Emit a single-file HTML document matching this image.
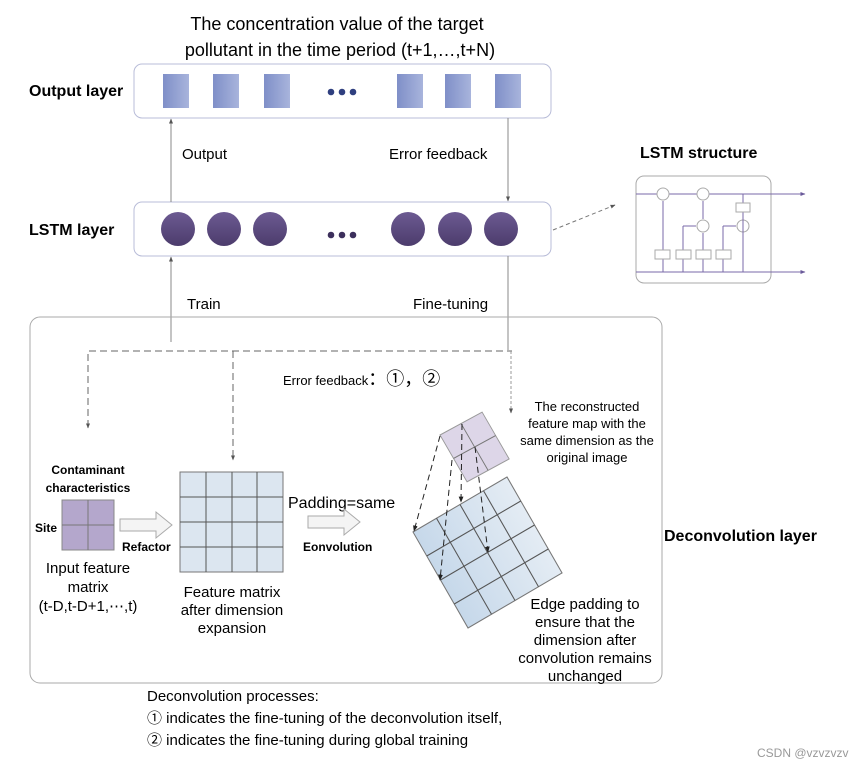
<!DOCTYPE html>
<html><head><meta charset="utf-8"><style>
body{margin:0;background:#fff}
svg text{font-family:"Liberation Sans",sans-serif}
</style></head><body>
<svg width="859" height="769" viewBox="0 0 859 769" xmlns="http://www.w3.org/2000/svg">
<defs>
<marker id="a" viewBox="0 0 10 10" refX="9" refY="5" markerWidth="5" markerHeight="5" orient="auto"><path d="M0,1L10,5L0,9z" fill="#555"/></marker>
<marker id="b" viewBox="0 0 10 10" refX="9" refY="5" markerWidth="6" markerHeight="6" orient="auto"><path d="M0,1L10,5L0,9z" fill="#222"/></marker>
<marker id="p" viewBox="0 0 10 10" refX="9" refY="5" markerWidth="5" markerHeight="5" orient="auto"><path d="M0,1L10,5L0,9z" fill="#6a5a9a"/></marker>
<linearGradient id="sq" x1="0" x2="1"><stop offset="0" stop-color="#7f8fc8"/><stop offset="1" stop-color="#a8b4dc"/></linearGradient>
<linearGradient id="ci" x1="0" y1="0" x2="0" y2="1"><stop offset="0" stop-color="#6c5a92"/><stop offset="1" stop-color="#4c3c6c"/></linearGradient>
<linearGradient id="bg" x1="0" y1="0" x2="1" y2="0"><stop offset="0" stop-color="#c6d8ea"/><stop offset="1" stop-color="#e4ecf4"/></linearGradient>
</defs>
<text x="337" y="30" font-size="18" text-anchor="middle">The concentration value of the target</text>
<text x="340" y="56" font-size="18" text-anchor="middle">pollutant in the time period (t+1,…,t+N)</text>
<text x="29" y="96" font-size="16" font-weight="bold">Output layer</text>
<rect x="134" y="64" width="417" height="54" rx="8" fill="#fff" stroke="#b8bcd8"/>
<g fill="url(#sq)"><rect x="163" y="74" width="26" height="34"/><rect x="213" y="74" width="26" height="34"/><rect x="264" y="74" width="26" height="34"/><rect x="397" y="74" width="26" height="34"/><rect x="445" y="74" width="26" height="34"/><rect x="495" y="74" width="26" height="34"/></g>
<g fill="#2f3f7f"><circle cx="331" cy="92" r="3.3"/><circle cx="342" cy="92" r="3.3"/><circle cx="353" cy="92" r="3.3"/></g>
<text x="29" y="235" font-size="16" font-weight="bold">LSTM layer</text>
<rect x="134" y="202" width="417" height="54" rx="8" fill="#fff" stroke="#b8bcd8"/>
<g fill="url(#ci)"><circle cx="178" cy="229" r="17"/><circle cx="224" cy="229" r="17"/><circle cx="270" cy="229" r="17"/><circle cx="408" cy="229" r="17"/><circle cx="455" cy="229" r="17"/><circle cx="501" cy="229" r="17"/></g>
<g fill="#3c2f5c"><circle cx="331" cy="235" r="3.3"/><circle cx="342" cy="235" r="3.3"/><circle cx="353" cy="235" r="3.3"/></g>
<line x1="171" y1="202" x2="171" y2="119" stroke="#888" marker-end="url(#a)"/>
<line x1="508" y1="118" x2="508" y2="201" stroke="#888" marker-end="url(#a)"/>
<line x1="171" y1="342" x2="171" y2="257" stroke="#888" marker-end="url(#a)"/>
<line x1="508" y1="256" x2="508" y2="350" stroke="#888"/>
<text x="182" y="159" font-size="15">Output</text>
<text x="389" y="159" font-size="15">Error feedback</text>
<text x="187" y="309" font-size="15">Train</text>
<text x="413" y="309" font-size="15">Fine-tuning</text>
<line x1="553" y1="230" x2="615" y2="205" stroke="#777" stroke-dasharray="4,3" marker-end="url(#a)"/>
<text x="640" y="158" font-size="16" font-weight="bold">LSTM structure</text>
<g stroke="#7a6aa8" fill="none" stroke-width="1">
<rect x="636" y="176" width="135" height="107" rx="8" stroke="#aaa"/>
<line x1="636" y1="194" x2="805" y2="194" marker-end="url(#p)"/>
<line x1="636" y1="272" x2="805" y2="272" marker-end="url(#p)"/>
<circle cx="663" cy="194" r="6" fill="#fff" stroke="#aaa"/>
<circle cx="703" cy="194" r="6" fill="#fff" stroke="#aaa"/>
<circle cx="703" cy="226" r="6" fill="#fff" stroke="#aaa"/>
<circle cx="743" cy="226" r="6" fill="#fff" stroke="#aaa"/>
<line x1="663" y1="272" x2="663" y2="201"/>
<line x1="703" y1="219" x2="703" y2="201"/>
<line x1="683" y1="272" x2="683" y2="226"/><line x1="683" y1="226" x2="696" y2="226"/>
<line x1="703" y1="272" x2="703" y2="233"/>
<line x1="723" y1="272" x2="723" y2="226"/><line x1="723" y1="226" x2="736" y2="226"/>
<line x1="743" y1="272" x2="743" y2="194"/>
<g fill="#fff" stroke="#aaa"><rect x="655" y="250" width="15" height="9"/><rect x="676" y="250" width="15" height="9"/><rect x="696" y="250" width="15" height="9"/><rect x="716" y="250" width="15" height="9"/><rect x="736" y="203" width="14" height="9"/></g>
</g>
<rect x="30" y="317" width="632" height="366" rx="10" fill="none" stroke="#aaa"/>
<polyline points="88,427 88,351 512,351" fill="none" stroke="#666" stroke-dasharray="7,4" marker-end="none"/>
<line x1="88" y1="420" x2="88" y2="428" stroke="#666" marker-end="url(#a)"/>
<line x1="233" y1="351" x2="233" y2="460" stroke="#666" stroke-dasharray="7,4" marker-end="url(#a)"/>
<line x1="511" y1="351" x2="511" y2="413" stroke="#999" stroke-dasharray="3,2" marker-end="url(#a)"/>
<text x="283" y="385" font-size="13">Error feedback<tspan font-size="18" font-family="'Noto Sans CJK SC',sans-serif">：①，②</tspan></text>
<text x="88" y="474" font-size="12" font-weight="bold" text-anchor="middle">Contaminant</text>
<text x="88" y="492" font-size="12" font-weight="bold" text-anchor="middle">characteristics</text>
<text x="35" y="532" font-size="12" font-weight="bold">Site</text>
<rect x="62" y="500" width="52" height="50" fill="#b4a7cc" stroke="#888"/>
<line x1="88" y1="500" x2="88" y2="550" stroke="#777"/><line x1="62" y1="525" x2="114" y2="525" stroke="#777"/>
<text x="88" y="573" font-size="15" text-anchor="middle">Input feature</text>
<text x="88" y="592" font-size="15" text-anchor="middle">matrix</text>
<text x="88" y="611" font-size="15" text-anchor="middle">(t-D,t-D+1,⋯,t)</text>
<path d="M120,519h36v-7l16,13l-16,13v-7h-36z" fill="#f4f4f4" stroke="#aaa"/>
<text x="122" y="551" font-size="12" font-weight="bold">Refactor</text>
<rect x="180" y="472" width="103" height="100" fill="#dce6f0" stroke="#777"/>
<g stroke="#555"><line x1="206" y1="472" x2="206" y2="572"/><line x1="232" y1="472" x2="232" y2="572"/><line x1="257" y1="472" x2="257" y2="572"/><line x1="180" y1="497" x2="283" y2="497"/><line x1="180" y1="522" x2="283" y2="522"/><line x1="180" y1="547" x2="283" y2="547"/></g>
<text x="232" y="597" font-size="15" text-anchor="middle">Feature matrix</text>
<text x="232" y="615" font-size="15" text-anchor="middle">after dimension</text>
<text x="232" y="633" font-size="15" text-anchor="middle">expansion</text>
<text x="288" y="508" font-size="16">Padding=same</text>
<path d="M308,516h36v-7l16,13l-16,13v-7h-36z" fill="#f4f4f4" stroke="#aaa"/>
<text x="303" y="551" font-size="12" font-weight="bold">Eonvolution</text>
<g transform="matrix(0.904,-0.529,0.529,0.923,413,532)">
<rect x="0" y="0" width="104" height="104" fill="url(#bg)" stroke="#777"/>
<g stroke="#555"><line x1="26" y1="0" x2="26" y2="104"/><line x1="52" y1="0" x2="52" y2="104"/><line x1="78" y1="0" x2="78" y2="104"/><line x1="0" y1="26" x2="104" y2="26"/><line x1="0" y1="52" x2="104" y2="52"/><line x1="0" y1="78" x2="104" y2="78"/></g>
</g>
<g transform="matrix(0.81,-0.44,0.52,0.90,440,435)">
<rect x="0" y="0" width="52" height="52" fill="#ddd6e8" stroke="#999"/>
<line x1="26" y1="0" x2="26" y2="52" stroke="#777"/><line x1="0" y1="26" x2="52" y2="26" stroke="#777"/>
</g>
<g stroke="#222" stroke-dasharray="6,4" fill="none">
<line x1="440" y1="436" x2="414" y2="531" marker-end="url(#b)"/>
<line x1="462" y1="424" x2="461" y2="502" marker-end="url(#b)"/>
<line x1="452" y1="460" x2="440" y2="580" marker-end="url(#b)"/>
<line x1="475" y1="447" x2="488" y2="552" marker-end="url(#b)"/>
</g>
<g font-size="13" text-anchor="middle"><text x="587" y="411">The reconstructed</text><text x="587" y="428">feature map with the</text><text x="587" y="445">same dimension as the</text><text x="587" y="462">original image</text></g>
<g font-size="15" text-anchor="middle"><text x="585" y="609">Edge padding to</text><text x="585" y="627">ensure that the</text><text x="585" y="645">dimension after</text><text x="585" y="663">convolution remains</text><text x="585" y="681">unchanged</text></g>
<text x="664" y="541" font-size="16" font-weight="bold">Deconvolution layer</text>
<text x="147" y="701" font-size="15">Deconvolution processes:</text>
<text x="147" y="723" font-size="15"><tspan font-family="'Noto Sans CJK SC',sans-serif">①</tspan> indicates the fine-tuning of the deconvolution itself,</text>
<text x="147" y="745" font-size="15"><tspan font-family="'Noto Sans CJK SC',sans-serif">②</tspan> indicates the fine-tuning during global training</text>
<text x="757" y="757" font-size="12" fill="#999">CSDN @vzvzvzv</text>
</svg>
</body></html>
